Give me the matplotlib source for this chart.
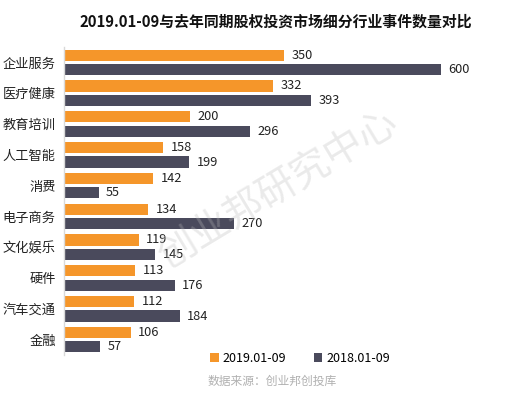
import matplotlib
matplotlib.use("Agg")
import matplotlib.pyplot as plt
import numpy as np

plt.rcParams['font.family'] = ['Noto Sans CJK SC', 'DejaVu Sans']

categories = ['企业服务', '医疗健康', '教育培训', '人工智能', '消费', '电子商务', '文化娱乐', '硬件', '汽车交通', '金融']
v2019 = [350, 332, 200, 158, 142, 134, 119, 113, 112, 106]
v2018 = [600, 393, 296, 199, 55, 270, 145, 176, 184, 57]
series_names = ['2019.01-09', '2018.01-09']
title = '2019.01-09与去年同期股权投资市场细分行业事件数量对比'
source = '数据来源：创业邦创投库'
watermark = '创业邦研究中心'

c19 = '#F5962A'
c18 = '#4A4A5C'

fig = plt.figure(figsize=(5.22, 3.93), dpi=100)
ax = fig.add_axes([64/522, 1-355/393, 440/522, 308/393])

y = np.arange(len(categories))
h = 0.36
off = 0.235
b1 = ax.barh(y - off, v2019, height=h, color=c19, label=series_names[0])
b2 = ax.barh(y + off, v2018, height=h, color=c18, label=series_names[1])
for bars, vals in ((b1, v2019), (b2, v2018)):
    for b, v in zip(bars, vals):
        ax.text(v + 12, b.get_y() + b.get_height()/2, str(v), va='center', ha='left',
                fontsize=9.2, color='#222222')

ax.set_xlim(0, 700)
ax.set_ylim(len(categories) - 0.5, -0.5)
ax.set_yticks(y)
ax.set_yticklabels(categories, fontsize=9.5, color='#222222')
ax.tick_params(axis='y', length=0, pad=6)
ax.set_xticks([])
for s in ('top', 'right', 'bottom'):
    ax.spines[s].set_visible(False)
ax.spines['left'].set_color('#d9d9d9')
ax.spines['left'].set_linewidth(1)

fig.text(276/522, 1-22/393, title, ha='center', va='center', fontsize=10.7,
         fontweight='bold', color='#111111')

leg = fig.legend(handles=[b1, b2], labels=series_names, loc='center',
                 bbox_to_anchor=(300/522, 1-358/393), ncol=2, frameon=False,
                 fontsize=9, handlelength=0.7, handleheight=0.7, handletextpad=0.3,
                 columnspacing=2.2)

fig.text(272/522, 1-381/393, source, ha='center', va='center', fontsize=8.5,
         color='#b0b0b0')

fig.text(278/522, 1-188/393, watermark, ha='center', va='center', fontsize=28,
         rotation=31, color='#bbbbbb', alpha=0.3, zorder=10)

fig.savefig('out.png', dpi=100, facecolor='white')
